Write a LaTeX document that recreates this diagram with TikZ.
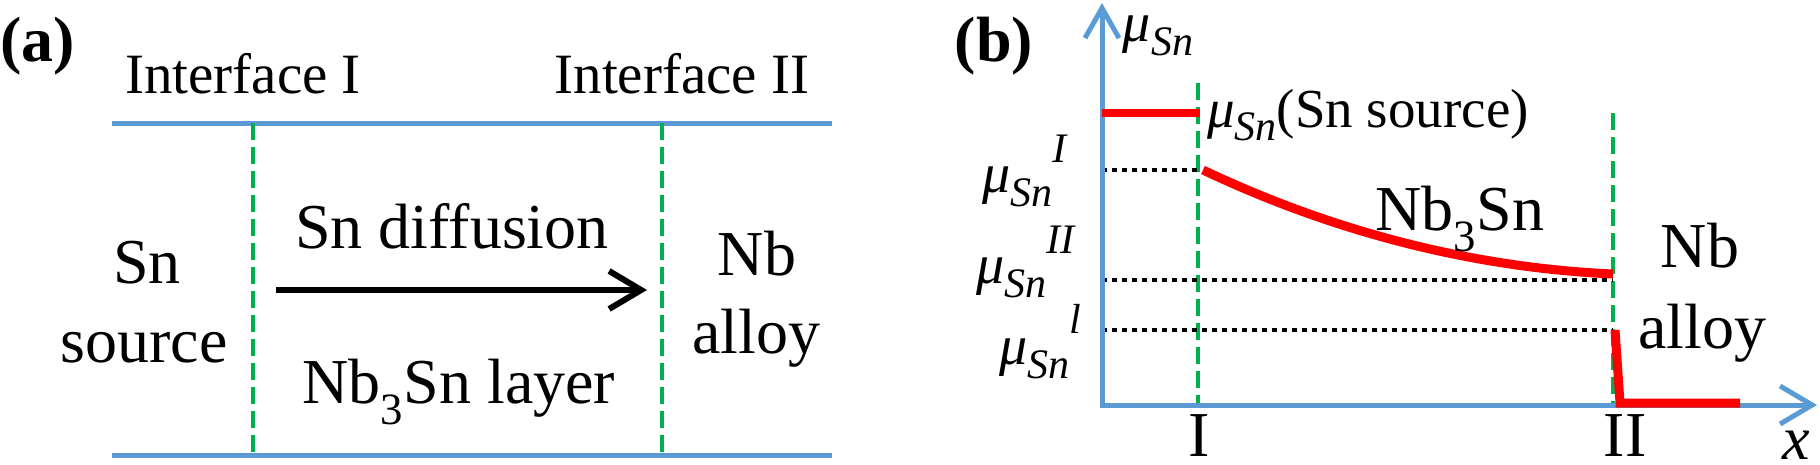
\documentclass[tikz,border=0pt]{standalone}
\usepackage{fontspec}
\setmainfont{Liberation Serif}
\newfontfamily\tnr{Liberation Serif}
\usetikzlibrary{arrows.meta}
\definecolor{axblue}{HTML}{5B9BD5}
\definecolor{ifgreen}{HTML}{00B050}
\definecolor{curvered}{HTML}{FF0000}
\newcommand\bodyfs{\tnr\fontsize{64}{70}\selectfont}
\newcommand\iffs{\tnr\fontsize{57}{62}\selectfont}
\newcommand\mufs{\tnr\fontsize{56}{60}\selectfont}
\newcommand\smallfs{\fontsize{42}{46}\selectfont}
\newcommand\muSn{\textit{μ}\raisebox{-0.25em}{\smallfs\textit{Sn}}}
\newcommand\muSnSup[1]{\muSn\raisebox{0.55em}{\smallfs\textit{#1}}}
\tikzset{
  txt/.style={inner sep=0pt, font=\bodyfs},
  iftxt/.style={inner sep=0pt, font=\iffs},
  mulbl/.style={inner sep=0pt, font=\mufs},
  bluebar/.style={draw=axblue, line width=5pt},
  axisline/.style={draw=axblue, line width=5pt, line join=miter,
    {Straight Barb[length=30pt,width=34pt]}-{Straight Barb[length=32pt,width=38pt]}},
  greendash/.style={draw=ifgreen, line width=4.5pt, dash pattern=on 17pt off 7pt},
  blackdot/.style={draw=black, line width=4.5pt, dash pattern=on 5pt off 5pt},
  redline/.style={draw=curvered, line width=9pt, line join=miter},
  flowarrow/.style={draw=black, line width=6pt, -{Straight Barb[length=32pt,width=38pt]}}
}
\begin{document}
\begin{tikzpicture}[x=1pt,y=-1pt]
\useasboundingbox (0,0) rectangle (1820,464);
% ---------------- panel (a)
\node[txt, font=\bodyfs\bfseries] (la) at (38,46) {(a)};
\coordinate (tl) at (112,123); \coordinate (tr) at (832,123);
\coordinate (bl) at (112,455); \coordinate (br) at (832,455);
\draw[bluebar] (tl) -- (tr);
\draw[bluebar] (bl) -- (br);
\coordinate (g1t) at (253,123); \coordinate (g1b) at (253,455);
\coordinate (g2t) at (662,123); \coordinate (g2b) at (662,455);
\draw[greendash] (g1t) -- (g1b);
\draw[greendash] (g2t) -- (g2b);
\node[iftxt, anchor=base] (if1) at (243,93) {Interface I};
\node[iftxt, anchor=base] (if2) at (682,93) {Interface II};
\node[txt, anchor=base] (sn) at (147,283) {Sn};
\node[txt, anchor=base] (src) at (144,362) {source};
\node[txt, anchor=base] (diff) at (452,248) {Sn diffusion};
\coordinate (as) at (276,290); \coordinate (ae) at (647,290);
\draw[flowarrow] (as) -- (ae);
\node[txt, anchor=base] (nb) at (757,275) {Nb};
\node[txt, anchor=base] (alloy) at (756,353) {alloy};
\node[txt, anchor=base] (layer) at (459,403) {Nb\textsubscript{3}Sn layer};
% ---------------- panel (b)
\node[txt, font=\bodyfs\bfseries] (lb) at (994,46) {(b)};
\coordinate (ytop) at (1102,3); \coordinate (orig) at (1102,405); \coordinate (xend) at (1817,405);
\coordinate (gIt) at (1198,83); \coordinate (gIb) at (1198,405);
\coordinate (gIIt) at (1613,113); \coordinate (gIIb) at (1613,405);
\draw[greendash] (gIt) -- (gIb);
\draw[greendash] (gIIt) -- (gIIb);
% dotted levels
\coordinate (d1a) at (1102,170); \coordinate (d1b) at (1198,170);
\coordinate (d2a) at (1102,280); \coordinate (d2b) at (1613,280);
\coordinate (d3a) at (1102,330); \coordinate (d3b) at (1613,330);
\draw[blackdot] (d1a) -- (d1b);
\draw[blackdot] (d2a) -- (d2b);
\draw[blackdot] (d3a) -- (d3b);
\draw[axisline] (ytop) -- (orig) -- (xend);
% red profile
\coordinate (s1) at (1102,113); \coordinate (s2) at (1200,113);
\draw[redline, line width=8pt] (s1) -- (s2);
\coordinate (c0) at (1203,170); \coordinate (c3) at (1613,274);
\draw[redline] (c0) .. controls (1340,235) and (1480,268) .. (c3);
\coordinate (r1) at (1615,330); \coordinate (r2) at (1620,403); \coordinate (r3) at (1740,403);
\draw[redline] (r1) -- (r2) -- (r3);
% labels
\node[mulbl] (muax) at (1158,36) {\muSn};
\node[inner sep=0pt, anchor=west, font=\tnr\fontsize{55}{60}\selectfont] (musrc) at (1207,115) {\muSn(Sn source)};
\node[mulbl] (muI) at (1025,171) {\muSnSup{I}};
\node[mulbl] (muII) at (1026,262) {\muSnSup{II}};
\node[mulbl] (mul) at (1040,342) {\muSnSup{l}};
\node[txt, anchor=base] (nbsn) at (1460,230) {Nb\textsubscript{3}Sn};
\node[txt, anchor=base] (nb2) at (1700,267) {Nb};
\node[txt, anchor=base] (alloy2) at (1702,348) {alloy};
\node[txt, anchor=base] (tI) at (1199,456) {I};
\node[txt, anchor=base] (tII) at (1625,456) {II};
\node[inner sep=0pt, font=\tnr\fontsize{62}{66}\selectfont] (xl) at (1796,445) {\textit{x}};
\end{tikzpicture}
\end{document}
